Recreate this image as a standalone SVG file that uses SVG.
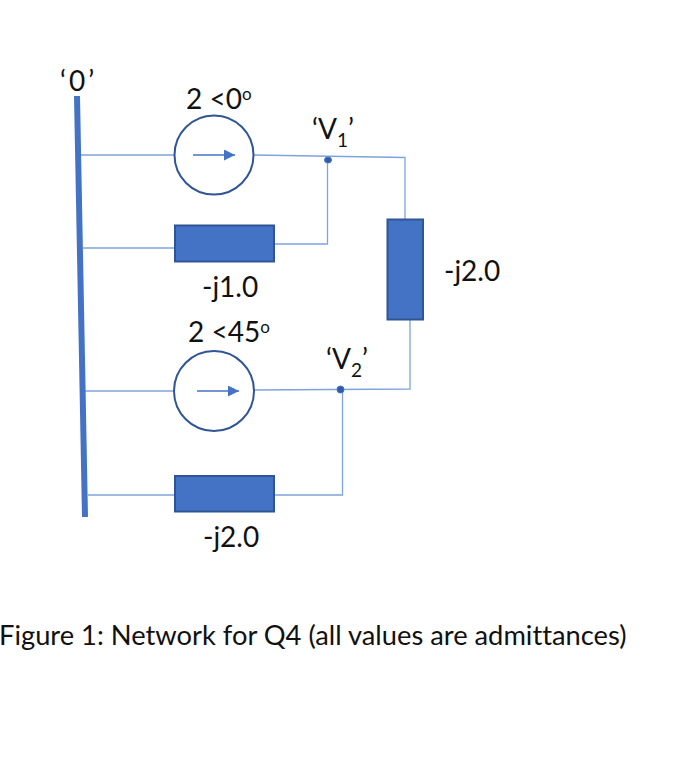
<svg xmlns="http://www.w3.org/2000/svg" width="698" height="758" viewBox="0 0 698 758">
<style>
text{font-family:"Lato","Open Sans",sans-serif;fill:#111;font-size:28px;font-variant-ligatures:none}
.w{fill:none;stroke:#7fa3dc;stroke-width:1.3}
.b{fill:#4472c4;stroke:#2f5597;stroke-width:2}
.c{fill:#fff;stroke:#2f5597;stroke-width:2}
.a{fill:none;stroke:#4472c4;stroke-width:1.3;marker-end:url(#h)}
.d{fill:#2f5ba8;stroke:#4472c4;stroke-width:1}
.s{font-size:19px}
.o{font-size:17px}
</style>
<defs><marker id="h" markerUnits="userSpaceOnUse" markerWidth="12" markerHeight="12" refX="11" refY="5.500" orient="auto"><path d="M0 0L11 5.500L0 11Z" fill="#4472c4"/></marker></defs>
<g id="connectors">
<path class="w" d="M81 155H175"/>
<path class="w" d="M254 155L405 157.500V219"/>
<path class="w" d="M83 248H175"/>
<path class="w" d="M274 244H327.500V160"/>
<path class="w" d="M85 391H175"/>
<path class="w" d="M254 390L410 389V320"/>
<path class="w" d="M88 495H175"/>
<path class="w" d="M274 495H342.500V390"/>
</g>
<g id="bus"><path d="M77 96L85 517" stroke="#4472c4" stroke-width="6" fill="none"/><text x="60" y="91" letter-spacing="3">‘0’</text></g>
<g id="source1"><circle class="c" cx="214" cy="155" r="39.500"/><path class="a" d="M193 155H235"/><text x="186" y="109">2 &lt;0<tspan class="o" dy="-9">o</tspan></text></g>
<g id="admittance1"><rect class="b" x="175" y="225.500" width="99" height="36"/><text x="202" y="297">-j1.0</text></g>
<g id="source2"><circle class="c" cx="214" cy="391" r="40"/><path class="a" d="M197 391H239"/><text x="188" y="342">2 &lt;45<tspan class="o" dy="-9">o</tspan></text></g>
<g id="admittance2"><rect class="b" x="175" y="476" width="99" height="35.500"/><text x="203" y="547">-j2.0</text></g>
<g id="admittance3"><rect class="b" x="387.500" y="219.500" width="35.500" height="100"/><text x="444" y="281">-j2.0</text></g>
<g id="nodeV1"><ellipse class="d" cx="328" cy="160" rx="3.500" ry="3"/><text x="312" y="139">‘V<tspan class="s" dy="8">1</tspan><tspan dy="-8">’</tspan></text></g>
<g id="nodeV2"><circle class="d" cx="340.500" cy="389.500" r="3.500"/><text x="326" y="369">‘V<tspan class="s" dy="8">2</tspan><tspan dy="-8">’</tspan></text></g>
<text id="caption" x="-1" y="645" style="font-size:27.300px">Figure 1: Network for Q4 (all values are admittances)</text>
</svg>
